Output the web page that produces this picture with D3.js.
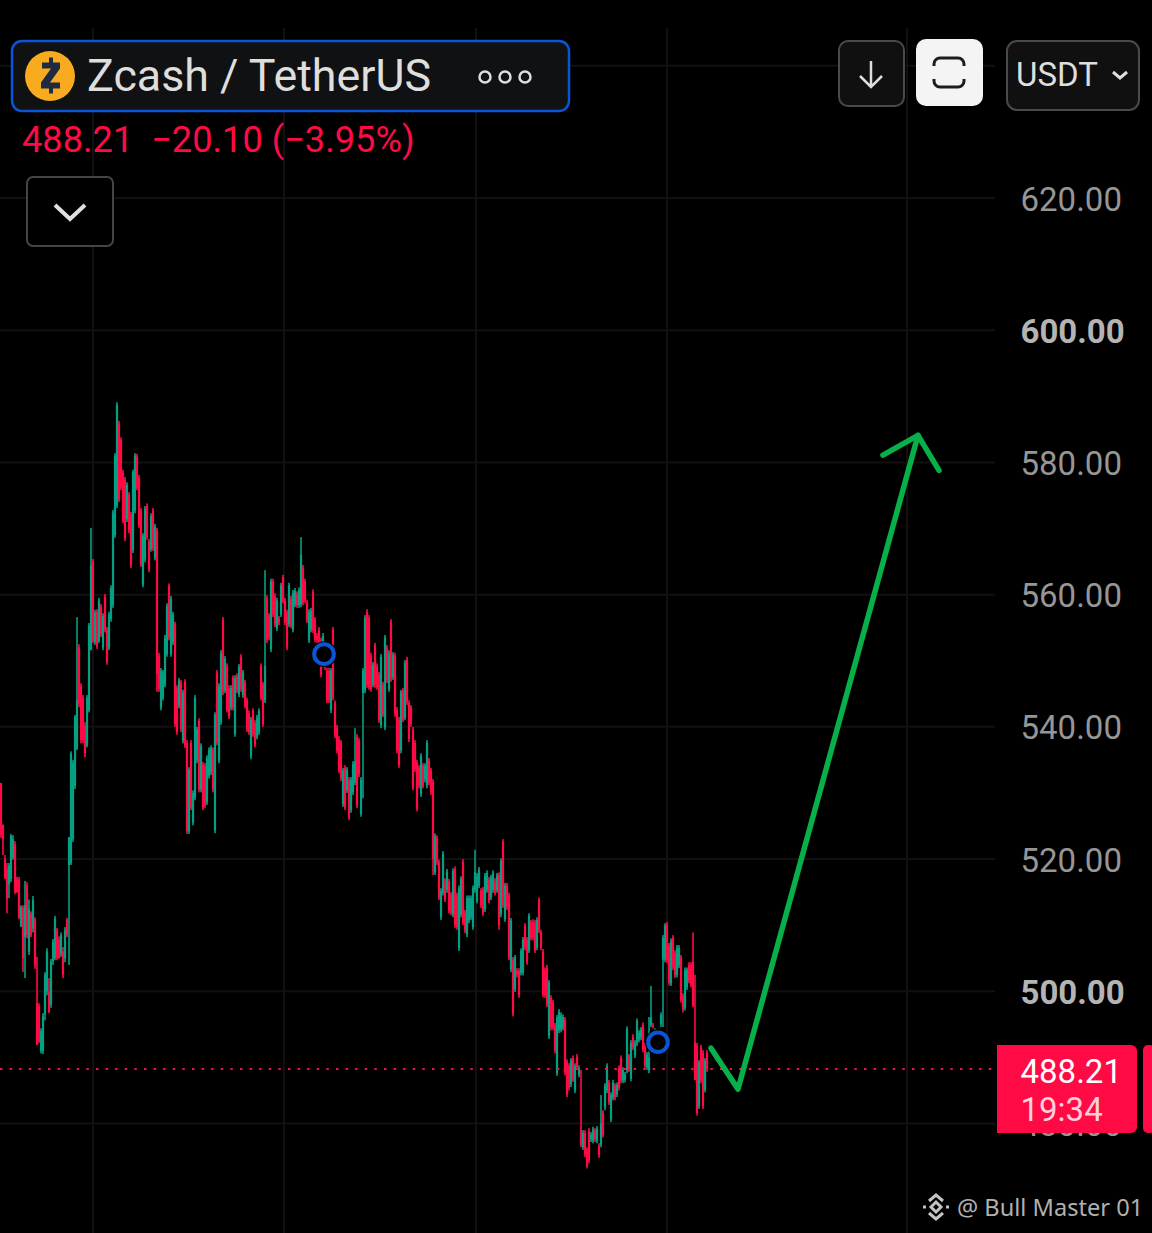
<!DOCTYPE html>
<html>
<head>
<meta charset="utf-8">
<style>
    html, body { margin: 0; padding: 0; background: #000; }
    svg { display: block; }
    text { font-family: Roboto, sans-serif; }
</style>
<script src="https://d3js.org/d3.v7.min.js"></script>
</head>
<body>
<svg></svg>
<script>
// Candles, ten per row
const highs = [
531.5,525.2,520.6,519.4,519.4,523.8,523.6,522.7,517.3,517.3,
513.0,513.0,516.7,516.5,513.9,512.1,514.4,511.2,505.2,498.2,
494.4,496.7,502.9,506.5,502.0,504.9,507.9,511.4,509.6,508.3,
508.9,506.7,509.7,511.1,523.3,536.3,535.0,541.8,556.6,552.5,
546.6,544.8,540.7,544.8,555.7,570.1,565.4,557.7,557.8,559.5,
558.6,557.2,560.1,555.1,557.4,561.4,572.8,581.4,589.1,586.3,
583.8,578.9,577.8,577.0,575.5,572.5,578.9,581.4,581.3,578.1,
573.1,569.3,573.4,573.8,568.4,572.3,573.1,570.7,570.1,551.2,
548.9,548.6,553.9,558.7,561.7,559.8,557.4,555.9,546.3,547.4,
547.1,545.6,547.2,538.0,533.9,538.0,530.4,544.8,540.0,541.3,
537.5,534.7,534.5,535.7,536.9,537.2,536.9,542.2,548.6,546.6,
551.6,556.6,550.7,549.6,546.3,546.3,547.8,547.8,548.1,549.5,
551.0,548.6,547.1,544.4,542.5,541.5,542.8,541.0,541.8,542.8,
549.6,546.8,563.7,559.9,557.2,562.4,562.4,560.2,559.5,556.8,
561.8,563.0,559.5,557.7,561.8,559.8,560.7,561.0,560.5,561.1,
568.7,564.5,562.4,559.2,557.8,558.0,560.8,556.6,554.2,555.1,
553.5,554.2,552.4,548.9,548.9,548.9,555.1,544.0,540.3,538.6,
538.0,533.8,534.2,533.9,532.4,532.4,534.8,539.8,538.9,538.3,
532.4,548.9,556.9,557.8,556.9,551.2,549.8,552.7,549.6,548.3,
551.0,546.8,553.9,552.4,551.6,556.3,551.3,551.2,543.0,541.5,
545.6,545.9,550.1,550.6,544.0,543.3,540.0,538.0,535.0,534.2,
536.0,534.5,534.5,538.0,535.3,533.8,532.1,523.9,523.6,519.9,
515.6,521.2,517.1,518.5,517.0,515.0,518.6,518.9,514.9,516.0,
517.4,520.0,512.3,514.5,514.5,514.5,516.0,521.4,517.9,518.8,
515.6,515.8,517.9,518.3,517.3,517.6,518.3,517.1,517.9,518.0,
520.1,523.0,516.4,516.4,514.9,511.1,505.2,505.5,503.5,503.5,
506.5,508.2,510.3,508.2,511.8,510.8,510.9,510.8,511.2,514.2,
509.3,506.4,503.6,504.0,501.7,499.4,498.7,495.2,496.4,497.3,
496.8,496.5,496.1,489.7,489.1,489.9,490.3,489.1,490.5,488.8,
488.1,479.0,479.0,476.4,479.3,478.7,479.5,479.3,479.6,477.0,
484.3,482.0,486.1,489.1,486.6,484.7,486.6,486.1,486.2,488.8,
490.3,488.5,487.8,494.7,490.5,492.6,493.5,492.6,495.9,494.1,
494.6,495.3,492.2,490.8,496.1,500.8,495.2,494.4,494.1,493.2,
496.8,508.5,510.3,510.5,507.3,508.0,508.5,506.2,507.0,507.0,
505.5,499.7,503.6,503.6,504.4,504.4,508.9,502.5,492.2,489.6,
491.9,491.1,489.9,491.1
];
const lows = [
523.2,520.6,517.0,511.8,514.1,516.5,519.9,514.7,514.9,510.9,
509.7,502.9,502.0,508.0,505.5,508.2,508.9,503.4,491.9,492.2,
490.6,490.5,495.6,499.4,496.7,497.5,504.0,504.7,504.7,504.9,
505.2,502.0,504.4,508.2,504.0,519.1,522.6,530.6,536.5,543.0,
537.5,537.5,535.4,536.9,542.2,551.6,552.7,552.4,551.8,552.7,
553.6,551.6,554.3,549.4,551.6,555.9,558.0,568.6,573.1,574.0,
575.8,570.8,568.1,571.0,569.3,564.0,566.3,572.3,575.8,570.1,
564.2,561.1,564.9,568.3,563.4,566.5,566.6,565.2,545.3,545.3,
542.5,544.0,546.0,550.6,553.1,550.6,552.4,540.0,538.8,542.8,
539.2,537.5,536.8,523.8,523.8,527.4,525.1,528.9,534.5,530.1,
530.1,527.4,527.7,528.2,532.2,532.7,530.1,523.9,537.2,534.5,
540.3,544.8,545.1,542.2,541.2,542.5,542.5,538.5,545.1,544.5,
545.3,544.4,542.8,539.2,538.8,535.1,538.5,536.9,538.1,538.8,
544.0,540.0,543.6,552.7,553.1,551.3,556.6,555.1,554.5,555.4,
556.6,558.7,555.4,551.6,555.1,554.9,554.3,558.1,558.0,558.0,
558.1,558.4,558.7,555.7,552.7,554.3,554.2,552.8,552.7,552.1,
547.5,549.0,548.6,543.6,543.6,542.1,544.0,538.3,536.0,533.0,
531.8,527.9,527.4,530.0,525.9,527.0,529.7,531.2,527.7,532.4,
526.4,529.2,545.1,545.9,545.6,545.3,546.0,545.9,545.6,540.6,
539.8,541.5,539.5,546.6,545.3,546.8,547.1,541.5,536.0,533.8,
536.0,540.7,541.0,543.3,537.7,540.0,530.4,533.2,527.2,530.7,
529.4,530.7,531.6,530.7,531.2,529.7,517.6,517.6,519.1,513.8,
510.8,514.5,513.5,514.9,511.8,511.5,511.2,509.6,509.3,506.1,
511.2,510.0,508.8,508.2,510.3,510.8,509.3,514.9,513.3,515.6,
512.6,511.4,512.0,514.9,513.3,513.8,514.9,514.5,514.9,509.3,
511.2,512.6,510.5,512.3,504.7,502.9,496.2,499.9,502.1,499.0,
502.4,502.4,506.2,504.0,505.8,507.7,507.7,505.8,506.2,508.8,
506.2,499.1,499.0,497.6,492.8,494.1,494.1,490.6,487.2,493.7,
493.8,494.1,487.3,484.0,485.0,485.5,486.3,484.6,488.1,487.0,
476.4,476.0,474.9,473.2,474.0,477.2,477.0,477.2,477.0,474.8,
476.4,477.9,482.0,484.6,482.8,480.2,483.5,483.5,484.0,485.0,
486.1,486.1,486.2,487.6,487.8,486.4,491.1,489.9,491.7,492.3,
492.6,490.8,488.4,488.1,487.6,494.6,494.4,493.5,493.2,492.6,
494.6,494.6,504.4,504.3,500.9,500.8,503.2,502.0,502.1,503.5,
498.3,496.8,497.1,500.2,501.2,500.6,497.6,486.6,481.2,482.2,
486.1,482.2,484.7,487.8
];
const opens = [
531.5,525.2,520.0,518.5,516.2,517.0,520.2,522.2,517.0,516.8,
509.9,512.6,508.2,516.0,506.0,511.8,509.5,510.9,498.2,497.8,
491.0,491.0,496.5,500.0,500.0,498.0,504.5,505.0,509.2,507.8,
505.6,506.0,505.0,510.8,519.1,519.4,523.0,531.0,536.7,552.0,
546.2,544.4,540.2,537.2,542.5,551.6,565.0,552.8,557.4,553.0,
558.2,552.0,559.7,554.7,552.0,556.3,558.4,569.0,573.5,585.9,
583.4,578.5,577.4,571.4,575.1,572.1,566.7,572.7,580.9,577.7,
572.7,561.5,565.3,573.4,568.0,566.9,572.7,565.6,569.7,550.8,
542.9,544.4,546.4,551.0,561.3,551.0,552.8,555.5,545.9,543.2,
546.7,537.9,546.8,537.6,524.2,537.6,525.5,529.3,534.9,540.9,
530.5,534.3,534.1,528.6,532.6,533.1,536.5,524.3,548.2,534.9,
540.7,556.2,545.5,549.2,545.9,542.9,547.4,538.9,547.7,544.9,
550.6,544.8,546.7,544.0,542.1,535.5,542.4,540.6,538.5,539.2,
549.2,546.4,544.0,559.5,556.8,551.7,562.0,559.8,554.9,556.4,
557.0,562.6,559.1,557.3,555.5,559.4,554.7,558.5,560.1,558.4,
558.5,564.1,562.0,558.8,553.1,554.7,560.4,556.2,553.8,554.7,
553.1,549.4,552.0,548.5,548.5,542.5,554.7,543.6,539.9,538.2,
537.6,528.3,533.8,530.4,532.0,527.4,530.1,531.6,538.5,537.9,
526.8,545.1,545.5,557.4,556.5,550.8,546.4,552.3,549.2,547.9,
540.2,546.4,539.9,552.0,545.7,555.9,547.5,550.8,542.6,541.1,
536.4,545.5,541.4,550.2,543.6,542.9,539.6,537.6,534.6,533.8,
529.8,534.1,532.0,531.1,534.9,533.4,531.7,518.0,523.2,519.5,
511.2,514.9,516.7,515.3,516.6,514.6,511.6,518.5,514.5,506.5,
511.6,519.6,511.9,508.6,510.7,511.2,509.7,515.3,513.7,516.0,
515.2,515.4,512.4,515.3,516.9,514.2,515.3,516.7,515.3,517.6,
511.6,522.6,510.9,516.0,514.5,503.3,504.8,500.3,503.1,503.1,
502.8,502.8,509.9,507.8,506.2,510.4,510.5,510.4,506.6,513.8,
508.9,506.0,503.2,503.6,493.2,499.0,498.3,494.8,487.6,494.1,
494.2,494.5,495.7,489.3,488.7,485.9,489.9,485.0,490.1,487.4,
479.0,476.4,478.6,476.0,478.9,477.6,477.4,478.9,477.4,476.6,
476.8,481.6,482.4,485.0,486.2,480.6,483.9,485.7,484.4,488.4,
489.9,486.5,486.6,488.0,490.1,486.8,493.1,490.3,492.1,492.7,
493.0,494.9,491.8,488.5,488.0,494.9,494.8,493.9,493.6,493.0,
495.0,504.8,504.8,510.1,506.9,501.2,508.1,505.8,502.5,503.9,
505.1,499.3,497.5,500.6,504.0,504.0,504.5,492.2,491.8,482.6,
491.5,490.7,485.1,490.7
];
const closes = [
523.6,523.0,517.2,514.0,519.0,523.5,523.0,515.0,515.0,511.2,
512.7,505.0,513.0,508.5,512.5,508.5,513.8,504.0,491.9,492.4,
494.0,496.2,502.5,506.0,496.9,504.5,507.5,511.0,505.0,505.0,
508.5,502.5,509.2,508.5,523.3,536.0,534.6,541.5,544.0,543.5,
538.0,538.0,536.0,544.4,555.3,564.4,553.0,557.3,552.2,559.1,
554.0,556.8,554.7,549.8,557.0,561.0,572.4,581.0,588.7,574.4,
576.2,571.2,568.5,576.6,569.7,564.4,578.5,581.0,576.2,570.5,
564.6,568.9,573.0,568.7,563.8,571.9,567.0,570.3,548.0,545.7,
548.5,548.2,553.5,558.3,553.5,559.4,557.0,540.4,539.2,547.0,
539.6,545.2,537.2,524.2,533.5,527.8,530.0,544.4,539.6,530.5,
537.1,527.8,528.1,535.3,536.5,536.8,530.5,541.8,537.6,546.2,
551.2,545.2,550.3,542.6,541.6,545.9,542.9,547.4,545.5,549.1,
545.7,548.2,543.2,539.6,539.2,541.1,538.9,537.3,541.4,542.4,
544.4,540.4,549.2,553.1,553.5,562.0,557.0,555.5,559.1,555.8,
561.4,559.1,555.8,552.0,561.4,555.3,560.3,560.6,558.4,560.7,
566.0,558.8,559.1,556.1,557.4,557.6,554.6,553.2,553.1,552.5,
547.9,553.8,549.0,544.0,544.0,548.5,544.4,538.7,536.4,533.4,
532.2,533.4,527.8,533.5,526.3,532.0,534.4,534.8,528.1,532.8,
532.0,548.5,556.5,546.3,546.0,545.7,549.4,546.3,546.0,541.0,
550.6,541.9,553.5,547.0,551.2,547.2,550.9,541.9,536.4,534.2,
545.2,541.1,549.7,543.7,538.1,540.4,530.8,533.6,527.6,531.1,
535.6,531.1,534.1,537.6,531.6,530.1,520.0,523.5,519.5,514.2,
515.2,520.8,513.9,518.1,512.2,511.9,518.2,510.0,509.7,515.6,
517.0,510.4,509.2,514.1,514.1,514.1,515.6,518.0,517.5,518.4,
513.0,511.8,517.5,517.9,513.7,517.2,517.9,514.9,517.5,510.0,
519.7,513.0,516.0,512.7,505.1,510.7,496.6,505.1,502.5,499.4,
506.1,507.8,506.6,504.4,511.4,508.1,508.1,506.2,510.8,509.2,
506.6,499.5,499.4,498.0,501.3,494.5,494.5,491.0,496.0,496.9,
496.4,496.1,487.7,484.4,485.4,489.5,486.7,488.7,488.5,488.4,
476.8,478.6,475.3,473.6,474.4,478.3,479.1,477.6,479.2,475.2,
480.0,478.3,485.7,488.7,483.2,484.3,486.2,483.9,485.8,485.4,
486.5,488.1,487.4,494.3,488.2,492.2,491.5,492.2,495.5,493.7,
494.2,491.2,488.8,490.4,490.0,496.0,494.6,494.1,493.8,493.2,
496.4,508.1,509.9,504.7,501.3,507.6,503.6,502.4,506.6,506.6,
498.7,497.2,503.2,503.2,501.6,501.0,497.9,486.6,481.6,489.2,
486.5,482.6,489.5,488.2
];

const priceTicks = [620, 600, 580, 560, 540, 520, 500, 480];
const boldTicks = [600, 500];
const gridPrices = [640, 620, 600, 580, 560, 540, 520, 500, 480];
const gridBars = [46, 141.5, 237.5, 333, 453];
const lastPrice = 488.21;
const lastLabels = ["488.21", "19:34"];

// Drawn on top of the chart
const markerBars = [161.5, 328.5];
const markerPrices = [551.0, 492.3];
const arrowBars = [355, 368.5, 458.5];
const arrowPrices = [491.4, 485.2, 584.1];
const headBars = [441, 458.5, 469];
const headPrices = [581.1, 584.1, 578.8];

const width = 1152, height = 1233;
const red = "#ff0a45", teal = "#05a083", blue = "#0a55d6", gridColor = "#111111";

const svg = d3.select("svg").attr("width", width).attr("height", height);
svg.append("rect").attr("width", width).attr("height", height).attr("fill", "#000");

const x = d3.scaleLinear().domain([0, 100]).range([1, 201]);
const y = d3.scaleLinear().domain([620, 480]).range([198, 1123.5]);

// Grid
const grid = svg.append("g").attr("stroke", gridColor).attr("stroke-width", 2);
grid.selectAll("line.h").data(gridPrices).enter().append("line").attr("class", "h")
    .attr("x1", 0).attr("x2", 995).attr("y1", d => y(d)).attr("y2", d => y(d));
grid.selectAll("line.v").data(gridBars).enter().append("line").attr("class", "v")
    .attr("x1", d => x(d)).attr("x2", d => x(d)).attr("y1", 28).attr("y2", height);

// Price axis
const axis = svg.append("g").attr("transform", "translate(1020.5,1.5)")
    .call(d3.axisRight(y).tickValues(priceTicks).tickSize(0).tickPadding(0).tickFormat(d3.format(".2f")));
axis.select(".domain").remove();
axis.selectAll("text")
    .style("font-family", "Roboto, sans-serif")
    .style("font-size", "33px")
    .style("font-weight", d => boldTicks.includes(d) ? 700 : 400)
    .attr("fill", d => boldTicks.includes(d) ? "#b4b4b4" : "#969696");

// Candles
const candles = svg.append("g");
const color = i => closes[i] >= opens[i] ? teal : red;
candles.selectAll("rect.wick").data(highs).enter().append("rect").attr("class", "wick")
    .attr("x", (d, i) => x(i) - 0.8).attr("width", 1.6)
    .attr("y", d => y(d)).attr("height", (d, i) => y(lows[i]) - y(d))
    .attr("fill", (d, i) => color(i));
candles.selectAll("rect.body").data(opens).enter().append("rect").attr("class", "body")
    .attr("x", (d, i) => x(i) - 1.1).attr("width", 2.2)
    .attr("y", (d, i) => y(Math.max(d, closes[i])))
    .attr("height", (d, i) => Math.abs(y(d) - y(closes[i])))
    .attr("fill", (d, i) => color(i));

// Last price line
svg.append("line").attr("x1", 0).attr("x2", 995).attr("y1", 1069).attr("y2", 1069)
    .attr("stroke", red).attr("stroke-width", 2).attr("stroke-dasharray", "2.4 7.2");

// Blue circles
markerBars.forEach((b, i) => {
    svg.append("circle").attr("cx", x(b)).attr("cy", y(markerPrices[i])).attr("r", 13).attr("fill", "#000");
    svg.append("circle").attr("cx", x(b)).attr("cy", y(markerPrices[i])).attr("r", 9.8)
        .attr("fill", "none").attr("stroke", blue).attr("stroke-width", 4);
});

// Green arrow
const arrow = d3.line().x(d => x(d[0])).y(d => y(d[1]));
[d3.zip(arrowBars, arrowPrices), d3.zip(headBars, headPrices)].forEach(pts => {
    svg.append("path").attr("d", arrow(pts)).attr("fill", "none").attr("stroke", "#08b04a")
        .attr("stroke-width", 5.5).attr("stroke-linecap", "round").attr("stroke-linejoin", "round");
});

// Last price label
svg.append("path").attr("d", "M997,1045H1131a6,6 0 0 1 6,6V1127a6,6 0 0 1 -6,6H997Z").attr("fill", red);
svg.append("rect").attr("x", 1143).attr("y", 1045).attr("width", 12).attr("height", 88).attr("rx", 5).attr("fill", red);
svg.append("text").attr("x", 1020.5).attr("y", 1083).attr("font-size", 33).attr("fill", "#fff").text(lastLabels[0]);
svg.append("text").attr("x", 1020.5).attr("y", 1121).attr("font-size", 33).attr("fill", "#ffd0da").text(lastLabels[1]);

// Symbol pill
svg.append("rect").attr("x", 12).attr("y", 41).attr("width", 557).attr("height", 70).attr("rx", 10)
    .attr("fill", "#101112").attr("stroke", blue).attr("stroke-width", 2.5);
svg.append("circle").attr("cx", 50).attr("cy", 76).attr("r", 25).attr("fill", "#f9ab1f");
svg.append("path").attr("d", "M42,63H49V58H53V63H60V69L50,83H60V89H53V94H49V89H41V83L51,69H42Z")
    .attr("transform", "translate(0,-0.5)").attr("fill", "#1d2a40");
svg.append("text").attr("x", 87).attr("y", 91).attr("font-size", 44.8).attr("fill", "#dedede").text("Zcash / TetherUS");
[485, 505, 525].forEach(cx => {
    svg.append("circle").attr("cx", cx).attr("cy", 77).attr("r", 5.5)
        .attr("fill", "none").attr("stroke", "#dedede").attr("stroke-width", 2.5);
});
svg.append("text").attr("x", 22).attr("y", 151.5).attr("font-size", 36.2).attr("fill", red)
    .attr("xml:space", "preserve").style("white-space", "pre").text("488.21  \u221220.10 (\u22123.95%)");

// Collapse button
svg.append("rect").attr("x", 27).attr("y", 177).attr("width", 86).attr("height", 69).attr("rx", 6)
    .attr("fill", "#000").attr("stroke", "#454545").attr("stroke-width", 2);
svg.append("path").attr("d", "M55,205L70,219L85,205").attr("fill", "none").attr("stroke", "#e0e0e0").attr("stroke-width", 4);

// Right hand buttons
svg.append("rect").attr("x", 839).attr("y", 41).attr("width", 65).attr("height", 65).attr("rx", 9)
    .attr("fill", "#101010").attr("stroke", "#4a4a4a").attr("stroke-width", 2);
svg.append("path").attr("d", "M871,61V87M860,76L871,87L882,76").attr("fill", "none").attr("stroke", "#dedede").attr("stroke-width", 2.5);
svg.append("rect").attr("x", 916).attr("y", 39).attr("width", 67).attr("height", 67).attr("rx", 10).attr("fill", "#f4f4f4");
svg.append("path").attr("d", "M934,66V64a6,6 0 0 1 6,-6H958a6,6 0 0 1 6,6V66M934,79V81a6,6 0 0 0 6,6H958a6,6 0 0 0 6,-6V79")
    .attr("fill", "none").attr("stroke", "#1c1c1c").attr("stroke-width", 3);
svg.append("rect").attr("x", 1007).attr("y", 41).attr("width", 132).attr("height", 69).attr("rx", 10)
    .attr("fill", "#101010").attr("stroke", "#4a4a4a").attr("stroke-width", 2);
svg.append("text").attr("x", 1016).attr("y", 86).attr("font-size", 33).attr("fill", "#dedede").text("USDT");
svg.append("path").attr("d", "M1113,72L1120,78L1127,72").attr("fill", "none").attr("stroke", "#dedede").attr("stroke-width", 3);

// Watermark
const mark = svg.append("g").attr("transform", "translate(936,1207)").attr("fill", "none")
    .attr("stroke", "#c4c4c4").attr("stroke-width", 3);
mark.append("path").attr("d", "M-7,-6L0,-12L7,-6M-7,6L0,12L7,6M-5,0L0,-5L5,0L0,5Z");
mark.append("path").attr("d", "M-13,0h3M10,0h3");
svg.append("text").attr("x", 957).attr("y", 1216).attr("font-size", 23.6)
    .style("font-family", "'Noto Sans', sans-serif").attr("fill", "#b0b0b0").text("@ Bull Master 01");
</script>
</body>
</html>
